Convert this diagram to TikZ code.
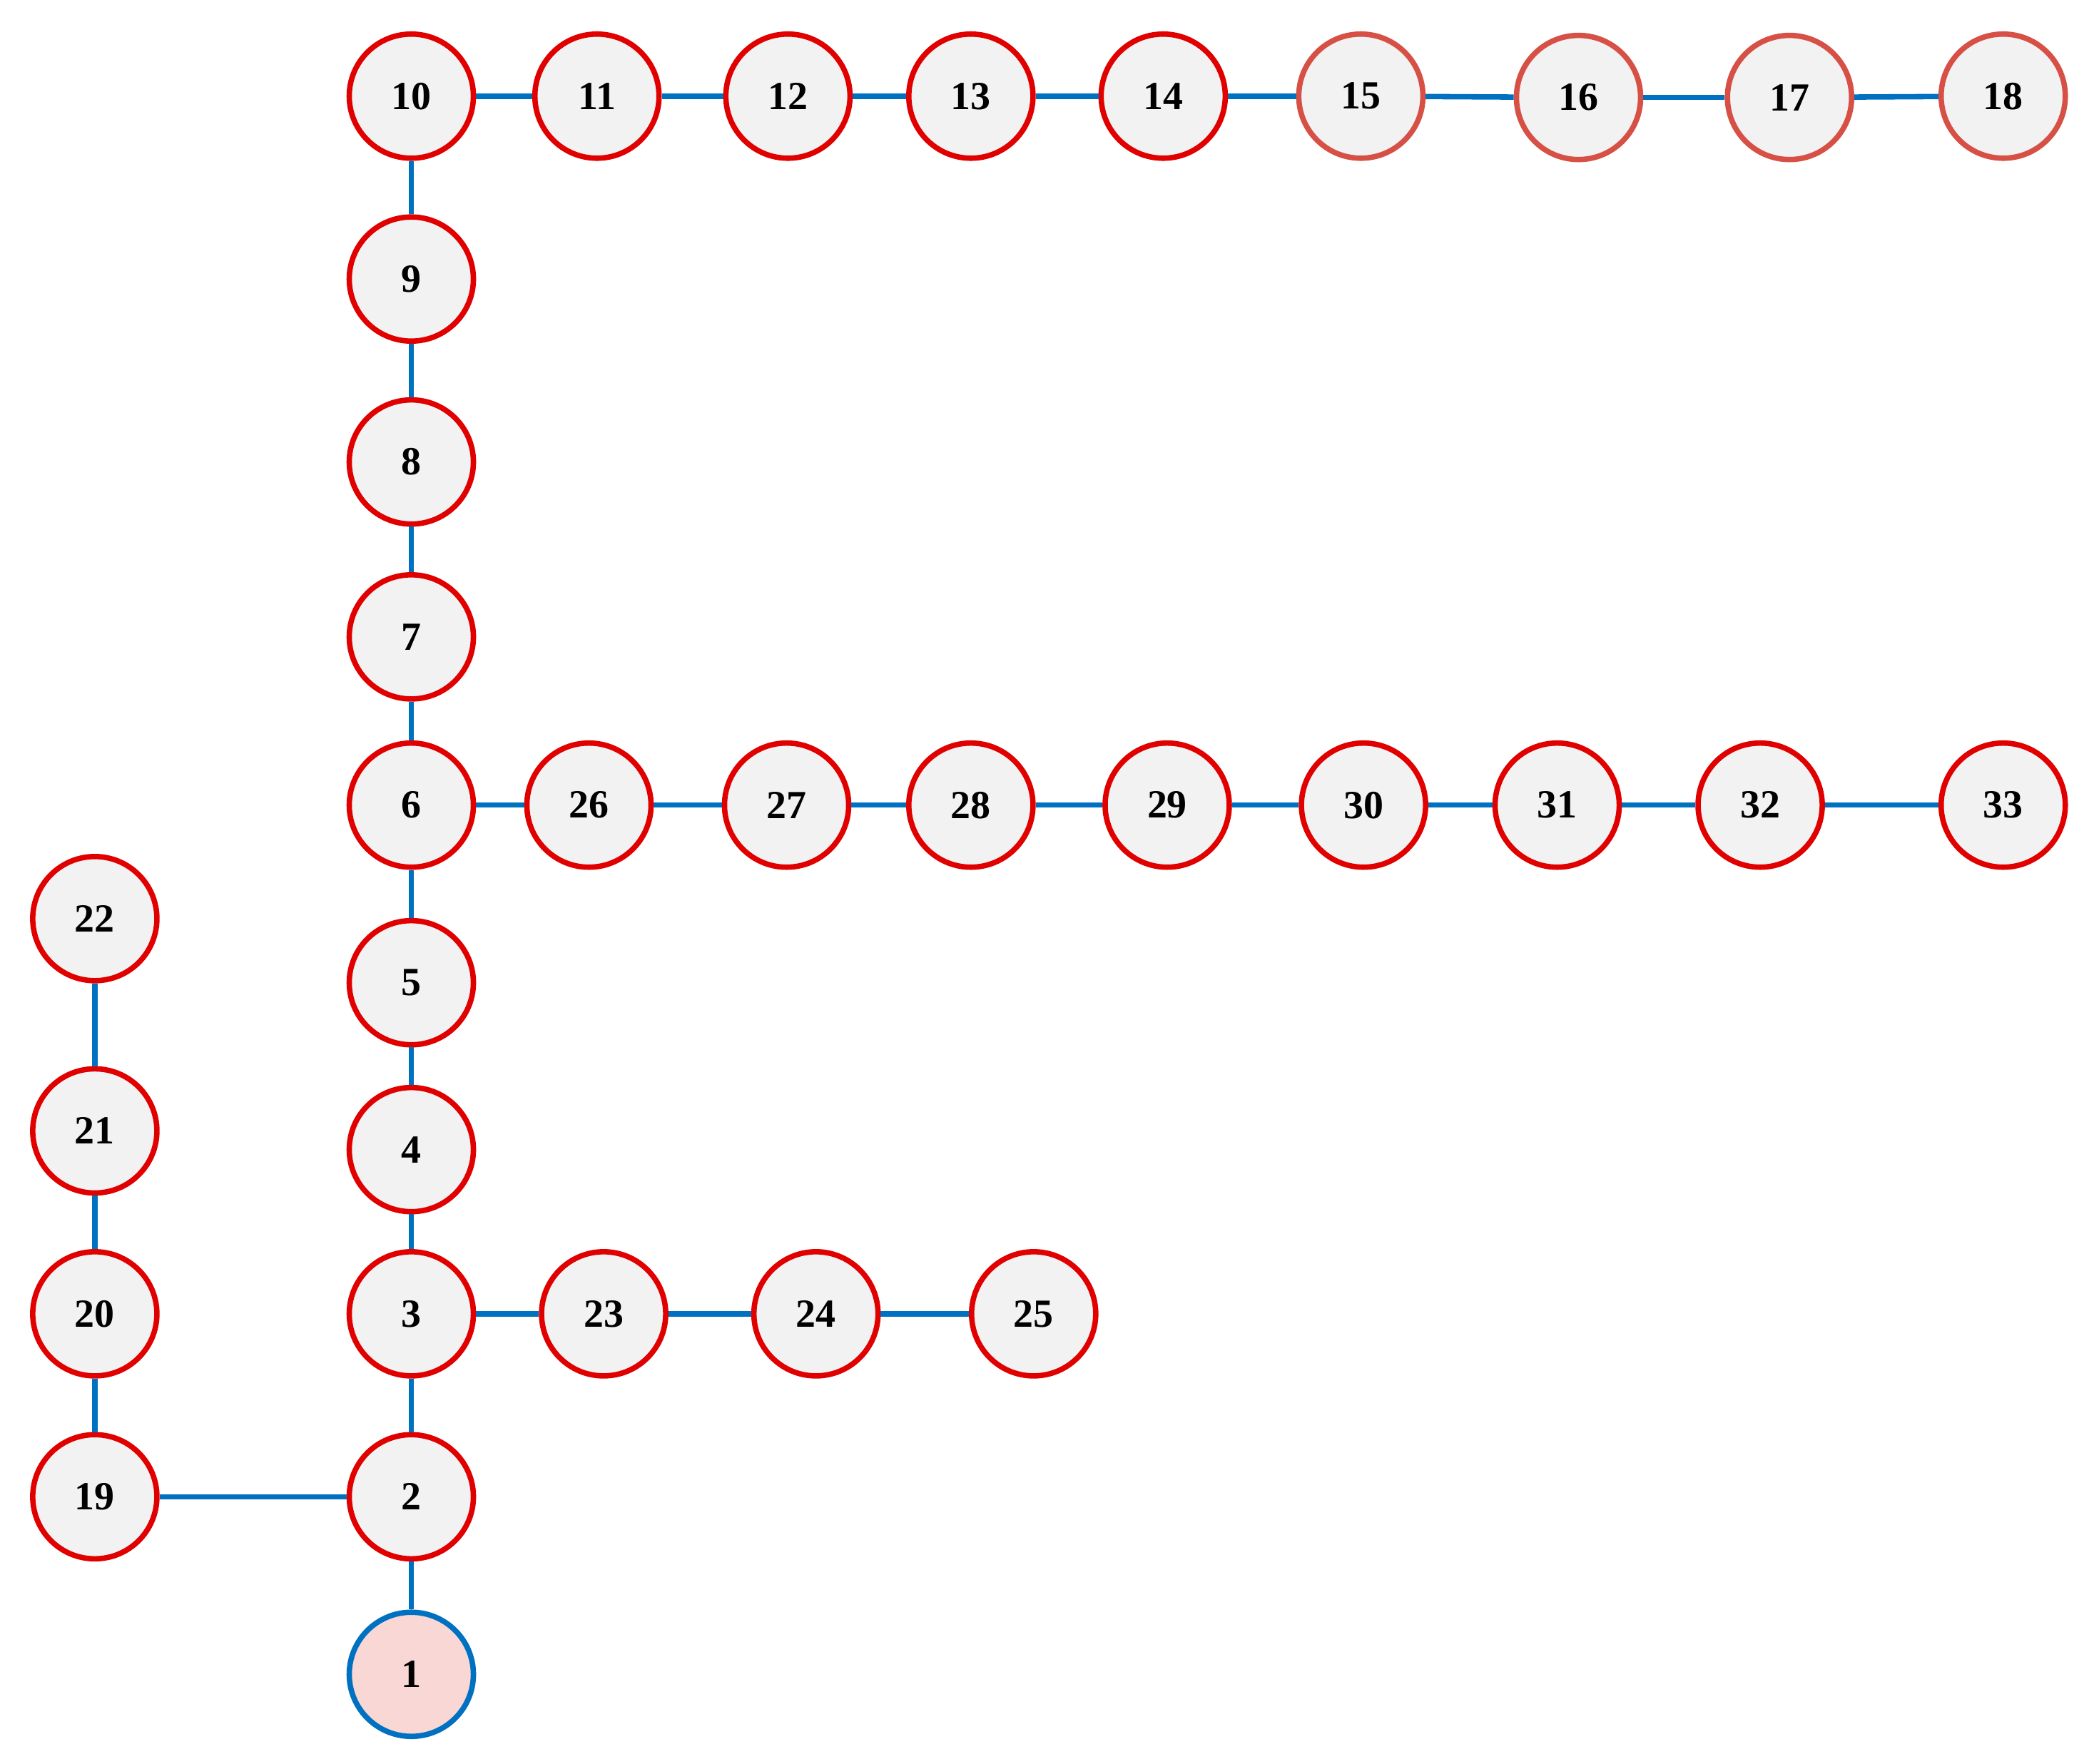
\documentclass[tikz,border=0pt]{standalone}
\usepackage{fontspec}
\setmainfont{Liberation Serif}
\begin{document}
\begin{tikzpicture}[x=0.02cm,y=-0.02cm,
 bus/.style={circle,draw=busred,fill=busgray,line width=2.3pt,minimum size=1.86cm,inner sep=0pt,font=\fontsize{17}{20}\selectfont\bfseries},
 busl/.style={bus,draw=buslight},
 edge/.style={draw=lineblue,line width=2.3pt}]
\definecolor{busred}{RGB}{225,0,0}
\definecolor{buslight}{RGB}{215,80,70}
\definecolor{busgray}{RGB}{242,242,242}
\definecolor{lineblue}{RGB}{0,112,192}
\definecolor{pink}{RGB}{248,215,213}
\useasboundingbox (0,0) rectangle (1568,1321);
\foreach \n/\x/\y in {10/308/72,11/447/72,12/590/72,13/727/72,14/871/72,
 9/308/209,8/308/346,7/308/477,6/308/603,5/308/736,4/308/861,3/308/984,2/308/1121,
 26/441/603,27/589/603,28/727/603,29/874/603,30/1021/603,31/1166/603,32/1318/603,33/1500/603,
 22/71/688,21/71/847,20/71/984,19/71/1121,23/452/984,24/611/984,25/774/984}
 \node[bus] (n\n) at (\x,\y) {\n};
\foreach \n/\x/\y in {15/1019/72,16/1182/73,17/1340/73,18/1500/72}
 \node[busl] (n\n) at (\x,\y) {\n};
\node[bus,draw=lineblue,fill=pink] (n1) at (308,1254) {1};
\foreach \a/\b in {1/2,2/3,3/4,4/5,5/6,6/7,7/8,8/9,9/10,10/11,11/12,12/13,13/14,14/15,15/16,16/17,17/18,
 2/19,19/20,20/21,21/22,3/23,23/24,24/25,6/26,26/27,27/28,28/29,29/30,30/31,31/32,32/33}
 \draw[edge] (n\a) -- (n\b);
\end{tikzpicture}
\end{document}
